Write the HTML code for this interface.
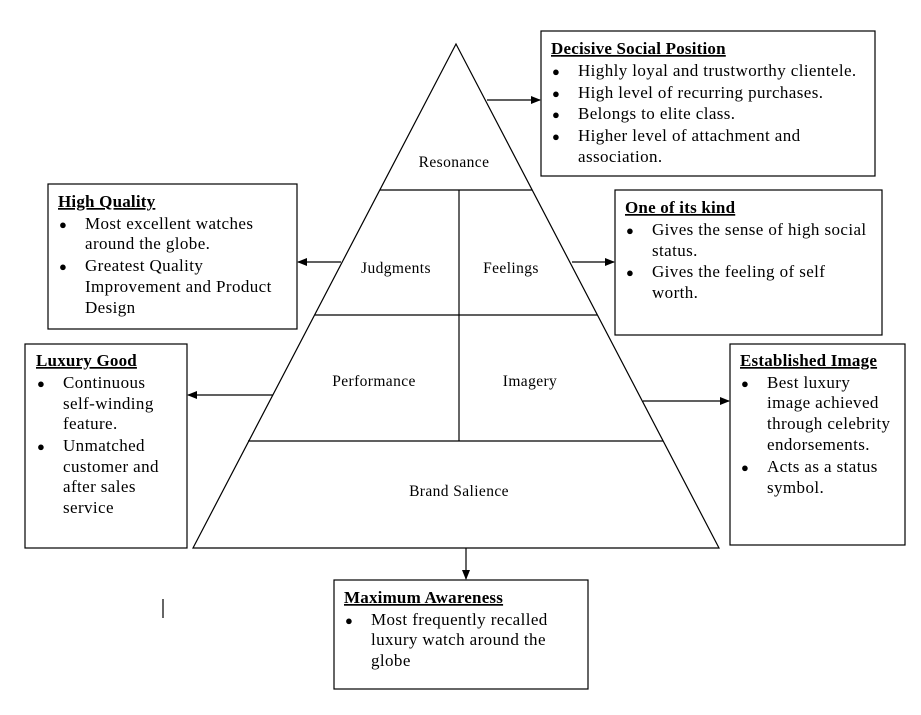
<!DOCTYPE html>
<html><head><meta charset="utf-8"><style>
html,body{margin:0;padding:0;background:#fff;}
svg text{font-family:"Liberation Serif",serif;fill:#000;}
.t{font-size:17px;letter-spacing:0.4px;}
.b{font-size:13px;}
.l{font-size:15.5px;letter-spacing:0.4px;}
.h{font-size:17px;font-weight:bold;text-decoration:underline;letter-spacing:0.2px;}
</style></head><body>
<svg width="921" height="710" viewBox="0 0 921 710" xmlns="http://www.w3.org/2000/svg">
<defs><marker id="a" markerWidth="10" markerHeight="8" refX="9" refY="4" orient="auto" markerUnits="userSpaceOnUse"><path d="M0,0 L10,4 L0,8 z" fill="#000"/></marker></defs>
<g stroke="#000" stroke-width="1.2" fill="none">
<polygon points="456,44 193,548 719,548"/>
<line x1="380" y1="190" x2="532" y2="190"/>
<line x1="315" y1="315" x2="597" y2="315"/>
<line x1="248" y1="441" x2="663" y2="441"/>
<line x1="459" y1="190" x2="459" y2="441"/>
<rect x="541" y="31" width="334" height="145"/>
<rect x="48" y="184" width="249" height="145"/>
<rect x="615" y="190" width="267" height="145"/>
<rect x="25" y="344" width="162" height="204"/>
<rect x="730" y="344" width="175" height="201"/>
<rect x="334" y="580" width="254" height="109"/>
<line x1="487" y1="100" x2="540" y2="100" marker-end="url(#a)"/>
<line x1="341" y1="262" x2="298" y2="262" marker-end="url(#a)"/>
<line x1="572" y1="262" x2="614" y2="262" marker-end="url(#a)"/>
<line x1="273" y1="395" x2="188" y2="395" marker-end="url(#a)"/>
<line x1="643" y1="401" x2="729" y2="401" marker-end="url(#a)"/>
<line x1="466" y1="548" x2="466" y2="579" marker-end="url(#a)"/>
<line x1="163" y1="599" x2="163" y2="618"/>
</g>
<text class="l" x="454" y="167" text-anchor="middle">Resonance</text>
<text class="l" x="396" y="273" text-anchor="middle">Judgments</text>
<text class="l" x="511" y="273" text-anchor="middle">Feelings</text>
<text class="l" x="374" y="386" text-anchor="middle">Performance</text>
<text class="l" x="530" y="386" text-anchor="middle">Imagery</text>
<text class="l" x="459" y="496" text-anchor="middle">Brand Salience</text>

<text class="h" x="551" y="54">Decisive Social Position</text>
<text class="b" x="552" y="76">●</text><text class="t" x="578" y="76">Highly loyal and trustworthy clientele.</text>
<text class="b" x="552" y="98">●</text><text class="t" x="578" y="98">High level of recurring purchases.</text>
<text class="b" x="552" y="119">●</text><text class="t" x="578" y="119">Belongs to elite class.</text>
<text class="b" x="552" y="141">●</text><text class="t" x="578" y="141">Higher level of attachment and</text>
<text class="t" x="578" y="162">association.</text>

<text class="h" x="58" y="207">High Quality</text>
<text class="b" x="59" y="229">●</text><text class="t" x="85" y="229">Most excellent watches</text>
<text class="t" x="85" y="249">around the globe.</text>
<text class="b" x="59" y="271">●</text><text class="t" x="85" y="271">Greatest Quality</text>
<text class="t" x="85" y="292">Improvement and Product</text>
<text class="t" x="85" y="313">Design</text>

<text class="h" x="625" y="213">One of its kind</text>
<text class="b" x="626" y="235">●</text><text class="t" x="652" y="235">Gives the sense of high social</text>
<text class="t" x="652" y="256">status.</text>
<text class="b" x="626" y="277">●</text><text class="t" x="652" y="277">Gives the feeling of self</text>
<text class="t" x="652" y="298">worth.</text>

<text class="h" x="36" y="366">Luxury Good</text>
<text class="b" x="37" y="388">●</text><text class="t" x="63" y="388">Continuous</text>
<text class="t" x="63" y="409">self-winding</text>
<text class="t" x="63" y="429">feature.</text>
<text class="b" x="37" y="451">●</text><text class="t" x="63" y="451">Unmatched</text>
<text class="t" x="63" y="472">customer and</text>
<text class="t" x="63" y="492">after sales</text>
<text class="t" x="63" y="513">service</text>

<text class="h" x="740" y="366">Established Image</text>
<text class="b" x="741" y="388">●</text><text class="t" x="767" y="388">Best luxury</text>
<text class="t" x="767" y="408">image achieved</text>
<text class="t" x="767" y="429">through celebrity</text>
<text class="t" x="767" y="450">endorsements.</text>
<text class="b" x="741" y="472">●</text><text class="t" x="767" y="472">Acts as a status</text>
<text class="t" x="767" y="493">symbol.</text>

<text class="h" x="344" y="603">Maximum Awareness</text>
<text class="b" x="345" y="625">●</text><text class="t" x="371" y="625">Most frequently recalled</text>
<text class="t" x="371" y="645">luxury watch around the</text>
<text class="t" x="371" y="666">globe</text>
</svg>
</body></html>
